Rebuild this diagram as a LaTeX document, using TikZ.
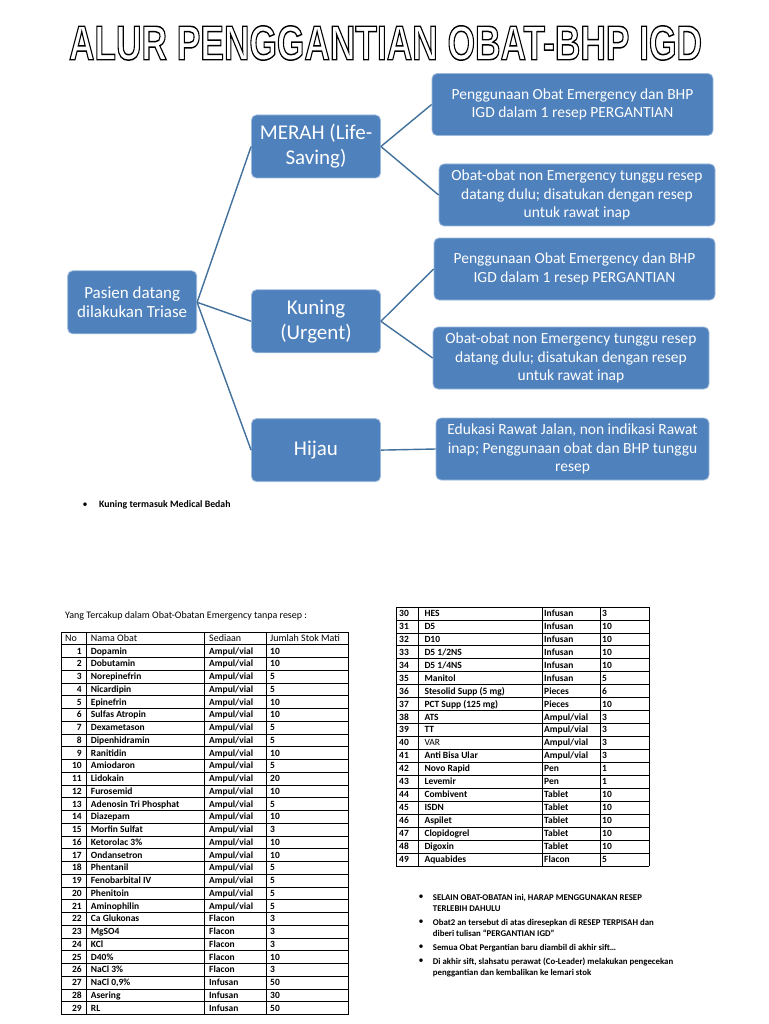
\documentclass[tikz,border=0pt]{standalone}
\usepackage{fontspec}
\setmainfont{Carlito}
\newfontface\judulfont{Liberation Sans Bold}[FakeBold=3]
\usepackage{graphicx}
\usetikzlibrary{positioning}

\definecolor{boxblue}{HTML}{4F81BD}
\definecolor{linkblue}{HTML}{41719C}

% short names for table entries that hold a slash or a comma
\newcommand\av{Ampul/vial}
\newcommand\dsetengah{D5 1/2NS}
\newcommand\dseperempat{D5 1/4NS}
\newcommand\naclnol{NaCl 0,9\%}
% outlined letters for the title: white fill, black stroke
\newcommand\hollow[1]{{\color{white}\special{pdf:code 0 G}\judulfont #1}}

\begin{document}
\begin{tikzpicture}[x=1pt, y=-1pt,
  box/.style={draw=boxblue!55!white, line width=0.8pt, fill=boxblue, rounded corners=5pt, text=white, align=center, inner sep=2pt},
  levelbox/.style={box, minimum width=129pt, minimum height=63pt, font=\fontsize{21}{25}\selectfont},
  startbox/.style={box, minimum width=129pt, minimum height=63pt, font=\fontsize{17}{19.7}\selectfont},
  actbox/.style={box, minimum height=62pt, font=\fontsize{15.5}{18.3}\selectfont},
  edge/.style={linkblue, line width=1.4pt},
  tabline/.style={line width=0.8pt},
  cell/.style={inner sep=0pt, anchor=base west, font=\fontsize{9.5}{11}\selectfont\bfseries},
  head/.style={cell, font=\fontsize{10}{11}\selectfont},
  note/.style={inner sep=0pt, anchor=north west, align=left, font=\fontsize{8.8}{10.8}\selectfont\bfseries},
  dot/.style={inner sep=0pt, font=\fontsize{10}{10}\selectfont}
]
\fill[white] (0,0) rectangle (768,1024);
\useasboundingbox (0,0) rectangle (768,1024);

\node (judul) at (385.5,43) {\resizebox{633pt}{34pt}{\fontsize{40}{40}\selectfont\hollow{ALUR PENGGANTIAN OBAT-BHP IGD}}};

% triase
\node[levelbox] (merah) at (316,146.5) {MERAH (Life-\\Saving)};
\node[levelbox, below=111pt of merah] (kuning) {Kuning\\(Urgent)};
\node[levelbox, below=65pt of kuning] (hijau) {Hijau};
\node[startbox, left=54pt of kuning, yshift=19pt] (pasien) {Pasien datang\\dilakukan Triase};

\node[actbox, minimum width=281pt] (merah1) at (572.5,104.5) {Penggunaan Obat Emergency dan BHP\\IGD dalam 1 resep PERGANTIAN};
\node[actbox, minimum width=276pt] (merah2) at (577,195) {Obat-obat non Emergency tunggu resep\\datang dulu; disatukan dengan resep\\untuk rawat inap};
\node[actbox, minimum width=281pt] (kuning1) at (574.5,269) {Penggunaan Obat Emergency dan BHP\\IGD dalam 1 resep PERGANTIAN};
\node[actbox, minimum width=276pt] (kuning2) at (571,358) {Obat-obat non Emergency tunggu resep\\datang dulu; disatukan dengan resep\\untuk rawat inap};
\node[actbox, minimum width=273pt] (hijau1) at (572.5,449) {Edukasi Rawat Jalan, non indikasi Rawat\\inap; Penggunaan obat dan BHP tunggu\\resep};

\draw[edge] (pasien.east) -- (merah.west);
\draw[edge] (pasien.east) -- (kuning.west);
\draw[edge] (pasien.east) -- (hijau.west);
\draw[edge] (merah.east) -- (merah1.west);
\draw[edge] (merah.east) -- (merah2.west);
\draw[edge] (kuning.east) -- (kuning1.west);
\draw[edge] (kuning.east) -- (kuning2.west);
\draw[edge] (hijau.east) -- (hijau1.west);

\node[dot] (titikk) at (85,505) {\textbullet};
\node[note, anchor=west, font=\fontsize{9.8}{11}\selectfont\bfseries] (ketkuning) at (99,505) {Kuning termasuk Medical Bedah};

% daftar obat, kiri
\node[head, anchor=west] (judultabel) at (65,615.7) {Yang Tercakup dalam Obat-Obatan Emergency tanpa resep :};
\foreach \r in {0,...,30} \draw[tabline] (61,{632+12.75*\r}) -- (348,{632+12.75*\r});
\foreach \c in {61,86,204,266,348} \draw[tabline] (\c,632) -- (\c,1014.5);
\node[head] (lhno) at (65,641.3) {No};
\node[head] (lhnama) at (90.7,641.3) {Nama Obat};
\node[head] (lhsed) at (209,641.3) {Sediaan};
\node[head] (lhjml) at (270,641.3) {Jumlah Stok Mati};
\foreach \n/\obat/\sed/\jml in {1/Dopamin/\av/10, 2/Dobutamin/\av/10, 3/Norepinefrin/\av/5,
  4/Nicardipin/\av/5, 5/Epinefrin/\av/10, 6/Sulfas Atropin/\av/10, 7/Dexametason/\av/5,
  8/Dipenhidramin/\av/5, 9/Ranitidin/\av/10, 10/Amiodaron/\av/5, 11/Lidokain/\av/20,
  12/Furosemid/\av/10, 13/Adenosin Tri Phosphat/\av/5, 14/Diazepam/\av/10,
  15/Morfin Sulfat/\av/3, 16/Ketorolac 3\%/\av/10, 17/Ondansetron/\av/10,
  18/Phentanil/\av/5, 19/Fenobarbital IV/\av/5, 20/Phenitoin/\av/5, 21/Aminophilin/\av/5,
  22/Ca Glukonas/Flacon/3, 23/MgSO4/Flacon/3, 24/KCl/Flacon/3, 25/D40\%/Flacon/10,
  26/NaCl 3\%/Flacon/3, 27/\naclnol/Infusan/50, 28/Asering/Infusan/30, 29/RL/Infusan/50} {
  \node[cell, anchor=base east] (lno\n) at (82,{641.3+12.75*\n}) {\n};
  \node[cell] (lnama\n) at (90.7,{641.3+12.75*\n}) {\obat};
  \node[cell] (lsed\n) at (209,{641.3+12.75*\n}) {\sed};
  \node[cell] (ljml\n) at (270,{641.3+12.75*\n}) {\jml};
}

% daftar obat, kanan
\foreach \r in {0,...,20} \draw[tabline] (396,{607+12.95*\r}) -- (649,{607+12.95*\r});
\foreach \c in {396,418,542,600,649} \draw[tabline] (\c,607) -- (\c,866);
\foreach \n/\obat/\sed/\jml in {30/HES/Infusan/3, 31/D5/Infusan/10, 32/D10/Infusan/10,
  33/\dsetengah/Infusan/10, 34/\dseperempat/Infusan/10, 35/Manitol/Infusan/5,
  36/Stesolid Supp (5 mg)/Pieces/6, 37/PCT Supp (125 mg)/Pieces/10, 38/ATS/\av/3,
  39/TT/\av/3, 40/\mdseries VAR/\av/3, 41/Anti Bisa Ular/\av/3, 42/Novo Rapid/Pen/1,
  43/Levemir/Pen/1, 44/Combivent/Tablet/10, 45/ISDN/Tablet/10, 46/Aspilet/Tablet/10,
  47/Clopidogrel/Tablet/10, 48/Digoxin/Tablet/10, 49/Aquabides/Flacon/5} {
  \node[cell] (rno\n) at (399,{616.4+12.95*(\n-30)}) {\n};
  \node[cell] (rnama\n) at (424.3,{616.4+12.95*(\n-30)}) {\obat};
  \node[cell] (rsed\n) at (544,{616.4+12.95*(\n-30)}) {\sed};
  \node[cell] (rjml\n) at (602,{616.4+12.95*(\n-30)}) {\jml};
}

% catatan
\node[dot] (titik1) at (421,897) {\textbullet};
\node[dot] (titik2) at (421,922) {\textbullet};
\node[dot] (titik3) at (421,947) {\textbullet};
\node[dot] (titik4) at (421,961) {\textbullet};
\node[note] (cat1) at (432.7,894) {SELAIN OBAT-OBATAN ini, HARAP MENGGUNAKAN RESEP\\TERLEBIH DAHULU};
\node[note] (cat2) at (432.7,919) {Obat2 an tersebut di atas diresepkan di RESEP TERPISAH dan\\diberi tulisan “PERGANTIAN IGD”};
\node[note] (cat3) at (432.7,944) {Semua Obat Pergantian baru diambil di akhir sift\dots};
\node[note] (cat4) at (432.7,958) {Di akhir sift, slahsatu perawat (Co-Leader) melakukan pengecekan\\penggantian dan kembalikan ke lemari stok};
\end{tikzpicture}
\end{document}
